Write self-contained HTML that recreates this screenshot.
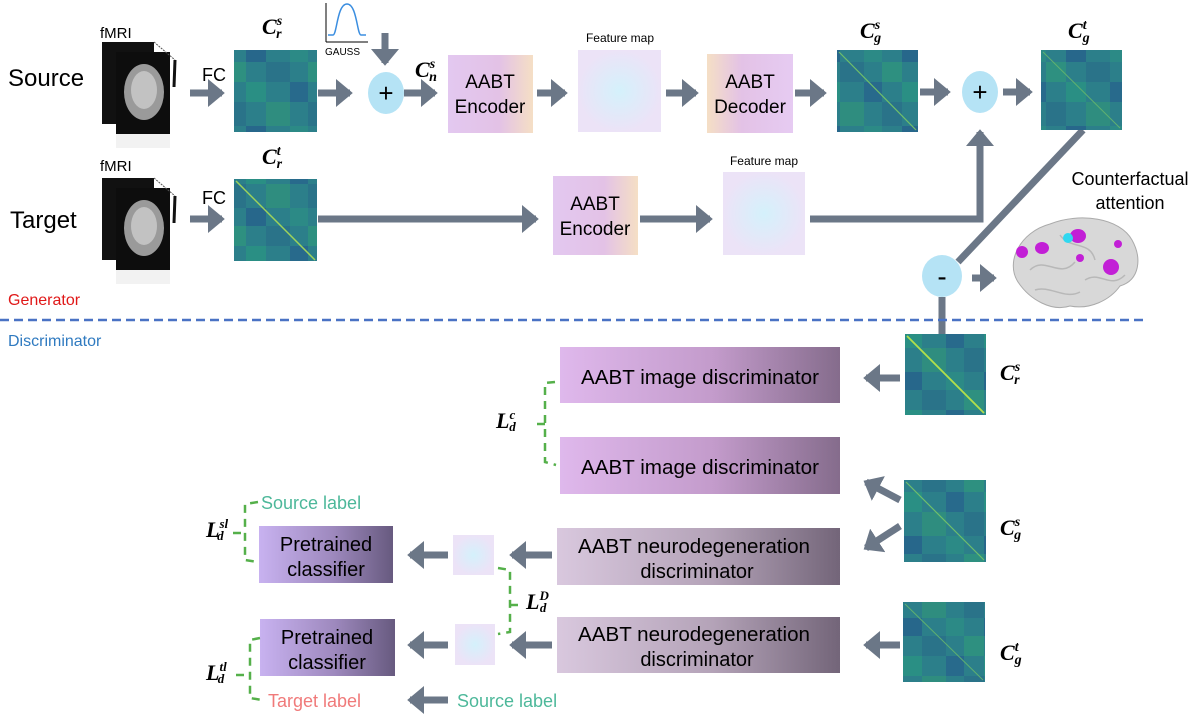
<!DOCTYPE html>
<html><head><meta charset="utf-8"><style>
html,body{margin:0;padding:0;background:#fff;}
svg{display:block;}
text{font-family:"Liberation Sans",sans-serif;}
.m text{font-family:"Liberation Serif",serif;font-weight:bold;font-style:italic;}
</style></head><body>
<svg width="1198" height="714" viewBox="0 0 1198 714" xmlns="http://www.w3.org/2000/svg">
<defs>
<marker id="ah" markerWidth="4" markerHeight="4" refX="2" refY="2" orient="auto" markerUnits="strokeWidth">
<path d="M0,0 L2.4,2 L0,4 Z" fill="#6b7787"/></marker>
<linearGradient id="enc" x1="0" x2="1"><stop offset="0" stop-color="#e3c8f0"/><stop offset="0.6" stop-color="#e3c2e6"/><stop offset="1" stop-color="#f5dfc5"/></linearGradient>
<linearGradient id="dec" x1="0" x2="1"><stop offset="0" stop-color="#f5dfc5"/><stop offset="0.4" stop-color="#e3c2e6"/><stop offset="1" stop-color="#e6cbf2"/></linearGradient>
<linearGradient id="dis" x1="0" x2="1"><stop offset="0" stop-color="#dfb8ec"/><stop offset="0.55" stop-color="#c39bcb"/><stop offset="1" stop-color="#856c8c"/></linearGradient>
<linearGradient id="neu" x1="0" x2="1"><stop offset="0" stop-color="#d9c8de"/><stop offset="0.55" stop-color="#b4a3b8"/><stop offset="1" stop-color="#736579"/></linearGradient>
<linearGradient id="pre" x1="0" x2="1"><stop offset="0" stop-color="#c8b2f0"/><stop offset="0.55" stop-color="#9e89be"/><stop offset="1" stop-color="#675a7f"/></linearGradient>
<radialGradient id="fm"><stop offset="0" stop-color="#d4f1fb"/><stop offset="1" stop-color="#ece3f7"/></radialGradient>
<pattern id="mx" width="82" height="82" patternUnits="userSpaceOnUse">
<rect width="82" height="82" fill="#2c7f8a"/>
<rect x="0" y="0" width="20" height="20" fill="#2a8f84"/><rect x="20" y="20" width="24" height="24" fill="#2f8d7f"/>
<rect x="44" y="44" width="18" height="18" fill="#2c8a86"/><rect x="62" y="62" width="20" height="20" fill="#2e9080"/>
<rect x="0" y="44" width="20" height="18" fill="#27678b"/><rect x="44" y="0" width="18" height="20" fill="#286a8c"/>
<rect x="62" y="20" width="20" height="24" fill="#2a7389"/><rect x="20" y="62" width="24" height="20" fill="#2a7389"/>
</pattern>
<g id="fmri">
<rect x="2" y="0" width="52" height="82" fill="#111"/>
<rect x="16" y="10" width="54" height="82" fill="#0d0d0d"/>
<ellipse cx="44" cy="50" rx="20" ry="28" fill="#9a9a9a"/>
<ellipse cx="44" cy="48" rx="13" ry="19" fill="#c2c2c2"/>
<line x1="54" y1="0" x2="75" y2="18" stroke="#555" stroke-width="1" stroke-dasharray="2,1"/>
<line x1="75" y1="18" x2="74" y2="45" stroke="#111" stroke-width="3"/>
<rect x="16" y="92" width="54" height="14" fill="#f2f2f2"/>
</g>
</defs>

<text x="8" y="86" font-size="24">Source</text>
<text x="10" y="228" font-size="24">Target</text>
<text x="100" y="38" font-size="15">fMRI</text>
<text x="100" y="171" font-size="15">fMRI</text>
<use href="#fmri" x="100" y="42"/>
<use href="#fmri" x="100" y="178"/>
<text x="202" y="81" font-size="18">FC</text>
<text x="202" y="204" font-size="18">FC</text>

<g stroke="#6b7787" stroke-width="7" fill="none">
<line x1="190" y1="93" x2="222" y2="93" marker-end="url(#ah)"/>
<line x1="190" y1="219" x2="222" y2="219" marker-end="url(#ah)"/>
<line x1="318" y1="93" x2="350" y2="93" marker-end="url(#ah)"/>
<line x1="385" y1="33" x2="385" y2="63" marker-end="url(#ah)"/>
<line x1="404" y1="93" x2="435" y2="93" marker-end="url(#ah)"/>
<line x1="537" y1="93" x2="565" y2="93" marker-end="url(#ah)"/>
<line x1="666" y1="93" x2="696" y2="93" marker-end="url(#ah)"/>
<line x1="795" y1="93" x2="824" y2="93" marker-end="url(#ah)"/>
<line x1="920" y1="92" x2="948" y2="92" marker-end="url(#ah)"/>
<line x1="1003" y1="92" x2="1030" y2="92" marker-end="url(#ah)"/>
<line x1="318" y1="219" x2="536" y2="219" marker-end="url(#ah)"/>
<line x1="640" y1="219" x2="710" y2="219" marker-end="url(#ah)"/>
<polyline points="810,219 980,219 980,132" marker-end="url(#ah)"/>
<line x1="1083" y1="130" x2="958" y2="262"/>
<line x1="972" y1="278" x2="994" y2="278" marker-end="url(#ah)"/>
<line x1="942" y1="297" x2="942" y2="336"/>
<line x1="900" y1="378" x2="866" y2="378" marker-end="url(#ah)"/>
<line x1="900" y1="500" x2="866" y2="482" marker-end="url(#ah)"/>
<line x1="900" y1="526" x2="866" y2="548" marker-end="url(#ah)"/>
<line x1="900" y1="645" x2="866" y2="645" marker-end="url(#ah)"/>
<line x1="552" y1="555" x2="512" y2="555" marker-end="url(#ah)"/>
<line x1="448" y1="555" x2="410" y2="555" marker-end="url(#ah)"/>
<line x1="552" y1="645" x2="512" y2="645" marker-end="url(#ah)"/>
<line x1="448" y1="645" x2="410" y2="645" marker-end="url(#ah)"/>
<line x1="448" y1="700" x2="410" y2="700" marker-end="url(#ah)"/>
</g>

<rect x="234" y="50" width="83" height="82" fill="url(#mx)"/>
<rect x="234" y="179" width="83" height="82" fill="url(#mx)"/>
<line x1="236" y1="181" x2="315" y2="260" stroke="#9fd35a" stroke-width="1.5"/>
<rect x="837" y="50" width="81" height="82" fill="url(#mx)"/>
<line x1="839" y1="52" x2="916" y2="130" stroke="#6fbf6a" stroke-width="1.2"/>
<rect x="1041" y="50" width="81" height="80" fill="url(#mx)"/>
<line x1="1043" y1="52" x2="1120" y2="128" stroke="#5fb070" stroke-width="1"/>
<rect x="905" y="334" width="81" height="81" fill="url(#mx)"/>
<line x1="907" y1="336" x2="984" y2="413" stroke="#b3e04a" stroke-width="1.8"/>
<rect x="904" y="480" width="82" height="82" fill="url(#mx)"/>
<line x1="906" y1="482" x2="984" y2="560" stroke="#6fbf6a" stroke-width="1.2"/>
<rect x="903" y="602" width="82" height="80" fill="url(#mx)"/>
<line x1="905" y1="604" x2="983" y2="680" stroke="#5fb070" stroke-width="1"/>

<g class="m" font-size="22">
<text x="262" y="34">C<tspan font-size="14" dy="-9">s</tspan><tspan font-size="14" dx="-6" dy="13">r</tspan></text>
<text x="262" y="164">C<tspan font-size="14" dy="-9">t</tspan><tspan font-size="14" dx="-4" dy="13">r</tspan></text>
<text x="415" y="77">C<tspan font-size="14" dy="-9">s</tspan><tspan font-size="14" dx="-6" dy="13">n</tspan></text>
<text x="860" y="38">C<tspan font-size="14" dy="-9">s</tspan><tspan font-size="14" dx="-6" dy="13">g</tspan></text>
<text x="1068" y="38">C<tspan font-size="14" dy="-9">t</tspan><tspan font-size="14" dx="-4" dy="13">g</tspan></text>
<text x="1000" y="380">C<tspan font-size="14" dy="-9">s</tspan><tspan font-size="14" dx="-6" dy="13">r</tspan></text>
<text x="1000" y="535">C<tspan font-size="14" dy="-9">s</tspan><tspan font-size="14" dx="-6" dy="13">g</tspan></text>
<text x="1000" y="660">C<tspan font-size="14" dy="-9">t</tspan><tspan font-size="14" dx="-4" dy="13">g</tspan></text>
<text x="496" y="428">L<tspan font-size="13" dy="-9">c</tspan><tspan font-size="13" dx="-6" dy="12">d</tspan></text>
<text x="206" y="537">L<tspan font-size="13" dy="-9">sl</tspan><tspan font-size="13" dx="-11" dy="12">d</tspan></text>
<text x="526" y="609">L<tspan font-size="13" dy="-9">D</tspan><tspan font-size="13" dx="-9" dy="12">d</tspan></text>
<text x="206" y="680">L<tspan font-size="13" dy="-9">tl</tspan><tspan font-size="13" dx="-9" dy="12">d</tspan></text>
</g>

<g stroke="#000" stroke-width="1" fill="none">
<line x1="326" y1="3" x2="326" y2="42"/><line x1="326" y1="42" x2="368" y2="42"/>
</g>
<path d="M328,35 L333,35 C337,35 337,4 347,4 C357,4 357,35 361,35 L366,35" stroke="#3b8ee0" stroke-width="1.5" fill="none"/>
<text x="325" y="55" font-size="10">GAUSS</text>

<ellipse cx="386" cy="93" rx="18" ry="21" fill="#b5e3f5"/>
<text x="386" y="102" font-size="26" text-anchor="middle">+</text>
<ellipse cx="980" cy="92" rx="18" ry="21" fill="#b5e3f5"/>
<text x="980" y="101" font-size="26" text-anchor="middle">+</text>
<ellipse cx="942" cy="276" rx="20" ry="21" fill="#b5e3f5"/>
<text x="942" y="286" font-size="28" text-anchor="middle">-</text>

<rect x="448" y="55" width="85" height="78" fill="url(#enc)"/>
<text x="490" y="88" font-size="19" text-anchor="middle">AABT</text>
<text x="490" y="113" font-size="19" text-anchor="middle">Encoder</text>
<rect x="707" y="54" width="86" height="79" fill="url(#dec)"/>
<text x="750" y="88" font-size="19" text-anchor="middle">AABT</text>
<text x="750" y="113" font-size="19" text-anchor="middle">Decoder</text>
<rect x="553" y="176" width="85" height="79" fill="url(#enc)"/>
<text x="595" y="210" font-size="19" text-anchor="middle">AABT</text>
<text x="595" y="235" font-size="19" text-anchor="middle">Encoder</text>

<text x="620" y="42" font-size="12" text-anchor="middle">Feature map</text>
<rect x="578" y="50" width="83" height="82" fill="url(#fm)"/>
<text x="764" y="165" font-size="12" text-anchor="middle">Feature map</text>
<rect x="723" y="172" width="82" height="83" fill="url(#fm)"/>

<text x="1130" y="185" font-size="18" text-anchor="middle">Counterfactual</text>
<text x="1130" y="209" font-size="18" text-anchor="middle">attention</text>
<path d="M1018,282 C1005,262 1020,232 1050,224 C1080,212 1120,218 1132,240 C1142,258 1140,280 1120,286 C1110,300 1090,310 1070,306 C1052,312 1030,300 1018,282 Z" fill="#d8d8d8" stroke="#aaa" stroke-width="1"/>
<g fill="none" stroke="#b8b8b8" stroke-width="1.5">
<path d="M1030,270 C1045,255 1060,280 1075,262"/><path d="M1060,235 C1070,250 1090,240 1095,260"/>
<path d="M1085,280 C1100,270 1110,290 1125,275"/><path d="M1035,290 C1050,285 1065,300 1080,292"/>
</g>
<g fill="#c21fd6">
<ellipse cx="1022" cy="252" rx="6" ry="6"/><ellipse cx="1042" cy="248" rx="7" ry="6"/>
<ellipse cx="1078" cy="236" rx="8" ry="7"/><ellipse cx="1111" cy="267" rx="8" ry="8"/>
<ellipse cx="1118" cy="244" rx="4" ry="4"/><ellipse cx="1080" cy="258" rx="4" ry="4"/>
</g>
<ellipse cx="1068" cy="238" rx="5" ry="5" fill="#30d8f0"/>

<text x="8" y="305" font-size="16" fill="#e01818">Generator</text>
<line x1="0" y1="320" x2="1148" y2="320" stroke="#4a72c4" stroke-width="2.5" stroke-dasharray="9,5"/>
<text x="8" y="346" font-size="16" fill="#2f7ac0">Discriminator</text>

<rect x="560" y="347" width="280" height="56" fill="url(#dis)"/>
<text x="581" y="384" font-size="20" textLength="238" lengthAdjust="spacingAndGlyphs">AABT image discriminator</text>
<rect x="560" y="437" width="280" height="57" fill="url(#dis)"/>
<text x="581" y="474" font-size="20" textLength="238" lengthAdjust="spacingAndGlyphs">AABT image discriminator</text>
<rect x="557" y="528" width="283" height="57" fill="url(#neu)"/>
<text x="578" y="553" font-size="20" textLength="232" lengthAdjust="spacingAndGlyphs">AABT neurodegeneration</text>
<text x="697" y="578" font-size="20" text-anchor="middle">discriminator</text>
<rect x="557" y="617" width="283" height="56" fill="url(#neu)"/>
<text x="578" y="641" font-size="20" textLength="232" lengthAdjust="spacingAndGlyphs">AABT neurodegeneration</text>
<text x="697" y="666" font-size="20" text-anchor="middle">discriminator</text>
<rect x="259" y="526" width="134" height="57" fill="url(#pre)"/>
<text x="326" y="551" font-size="20" text-anchor="middle">Pretrained</text>
<text x="326" y="576" font-size="20" text-anchor="middle">classifier</text>
<rect x="260" y="619" width="135" height="57" fill="url(#pre)"/>
<text x="327" y="644" font-size="20" text-anchor="middle">Pretrained</text>
<text x="327" y="669" font-size="20" text-anchor="middle">classifier</text>
<rect x="453" y="535" width="41" height="40" fill="url(#fm)"/>
<rect x="455" y="624" width="40" height="41" fill="url(#fm)"/>

<text x="261" y="509" font-size="18" fill="#4db89a">Source label</text>
<text x="268" y="707" font-size="18" fill="#f07a7a">Target label</text>
<text x="457" y="707" font-size="18" fill="#4db89a">Source label</text>

<g stroke="#55b04a" stroke-width="2.5" fill="none" stroke-dasharray="8,6">
<path d="M555,382 L545,383 L545,462 L556,465"/>
<path d="M537,424 L545,424"/>
<path d="M258,502 L245,504 L245,560 L258,562"/>
<path d="M233,533 L245,533"/>
<path d="M498,568 L510,570 L510,632 L498,634"/>
<path d="M510,605 L518,605"/>
<path d="M260,638 L250,640 L250,698 L262,700"/>
<path d="M236,675 L250,675"/>
</g>
</svg>
</body></html>
